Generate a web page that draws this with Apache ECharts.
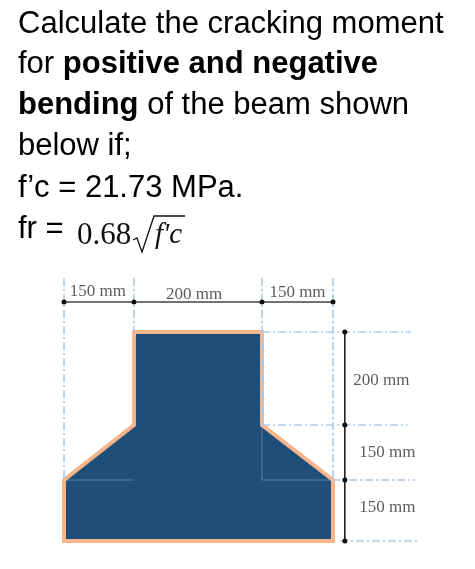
<!DOCTYPE html>
<html>
<head>
<meta charset="utf-8">
<style>
  html, body { margin: 0; padding: 0; background: #fff; }
  #main { width: 475px; height: 569px; }
</style>
<script src="https://cdn.jsdelivr.net/npm/echarts@6/dist/echarts.min.js"></script>
</head>
<body>
<div id="main"></div>
<script>
  // question text, one entry per line
  const questionLines = [
    '{n|Calculate the cracking moment}',
    '{n|for }{b|positive and negative}',
    '{b|bending}{n| of the beam shown}',
    '{n|below if;}',
    "{n|f\u2019c = 21.73 MPa.}",
    '{n|fr = }'
  ];

  // stations of the section as drawn (the sketch is not to scale)
  const stationX = [0, 130, 368, 500];
  const levelY = [0, 175, 333, 600];
  const extTop = 755;
  const dimTop = 686;
  const dimRight = 522;

  const sectionOutline = [
    [stationX[1], levelY[3]], [stationX[2], levelY[3]], [stationX[2], levelY[2]],
    [stationX[3], levelY[1]], [stationX[3], levelY[0]], [stationX[0], levelY[0]],
    [stationX[0], levelY[1]], [stationX[1], levelY[2]]
  ];
  const innerLines = [
    [[stationX[0], levelY[1]], [stationX[1], levelY[1]]],
    [[stationX[2], levelY[2]], [stationX[2], levelY[1]], [stationX[3], levelY[1]]]
  ];
  const extensionLines = [
    [[stationX[0], extTop], [stationX[0], levelY[1]]],
    [[stationX[1], extTop], [stationX[1], levelY[3]]],
    [[stationX[2], extTop], [stationX[2], levelY[2]]],
    [[stationX[3], extTop], [stationX[3], levelY[1]]],
    [[stationX[2], levelY[3]], [645, levelY[3]]],
    [[stationX[2], levelY[2]], [639, levelY[2]]],
    [[stationX[3], levelY[1]], [652, levelY[1]]],
    [[513, levelY[0]], [657, levelY[0]]]
  ];
  const dimLineTop = stationX.map(x => [x, dimTop]);
  const dimLineRight = levelY.map(y => [dimRight, y]);
  const dimLabels = [
    [63, 717, '150 mm'], [242, 708, '200 mm'], [434, 714, '150 mm'],
    [590, 460, '200 mm'], [601, 255, '150 mm'], [601, 95, '150 mm']
  ];

  const dashLine = (points) => ({
    type: 'line', data: points, silent: true, animation: false,
    symbol: 'none',
    lineStyle: { color: '#a9cbea', width: 1.6, type: [8, 3, 2, 3] }
  });

  const extensionSeries = extensionLines.map(dashLine);
  const innerSeries = innerLines.map(points => ({
    type: 'line', data: points, silent: true, animation: false,
    symbol: 'none', z: 4,
    lineStyle: { color: 'rgba(255,255,255,0.28)', width: 1 }
  }));

  const chart = echarts.init(document.getElementById('main'), null, { renderer: 'canvas' });

  const textStyles = {
    n: { fontFamily: 'Liberation Sans', fontSize: 31, color: '#000' },
    b: { fontFamily: 'Liberation Sans', fontSize: 31, fontWeight: 'bold', color: '#000' }
  };
  const lineTops = [23, 63, 104, 145, 187, 228];

  chart.setOption({
    backgroundColor: '#fff',
    animation: false,
    // full-window grid so nothing gets clipped; axis range keeps the sketch scale
    grid: { left: 0, right: 0, top: 0, bottom: 0 },
    xAxis: { type: 'value', min: -119, max: 764, show: false },
    yAxis: { type: 'value', min: -80.4, max: 1553.2, show: false },
    graphic: questionLines.map((line, i) => ({
      type: 'text', left: 18, top: lineTops[i] - 14,
      style: { text: line, rich: textStyles }
    })).concat([
      { type: 'text', left: 77, top: 220, style: { text: '0.68', fontFamily: 'Liberation Serif', fontSize: 31, fill: '#111' } },
      { type: 'polyline', shape: { points: [[133, 240], [137, 238], [142, 252], [154, 216], [185, 216]] }, style: { stroke: '#111', lineWidth: 1.3, fill: null } },
      { type: 'text', left: 155, top: 221, style: { text: "f'c", fontFamily: 'Liberation Serif', fontStyle: 'italic', fontSize: 29, fill: '#111' } }
    ]),
    series: extensionSeries.concat([
      {
        type: 'custom', coordinateSystem: 'cartesian2d', z: 3,
        data: [0], silent: true,
        renderItem: (params, api) => ({
          type: 'polygon',
          shape: { points: sectionOutline.map(p => api.coord(p)) },
          style: { fill: '#1f4e79', stroke: '#f6b58a', lineWidth: 4, lineJoin: 'miter' }
        })
      }
    ], innerSeries, [
      {
        type: 'line', data: dimLineTop, silent: true, z: 5,
        symbol: 'circle', symbolSize: 5,
        itemStyle: { color: '#111' },
        lineStyle: { color: '#444', width: 1.6 }
      },
      {
        type: 'line', data: dimLineRight, silent: true, z: 5,
        symbol: 'circle', symbolSize: 5,
        itemStyle: { color: '#111' },
        lineStyle: { color: '#222', width: 1.6 }
      },
      {
        type: 'scatter', data: dimLabels, silent: true, z: 6,
        symbolSize: 0,
        label: {
          show: true, position: 'inside',
          formatter: p => p.value[2],
          fontFamily: 'Liberation Serif', fontSize: 17, color: '#333'
        }
      }
    ])
  });
</script>
</body>
</html>
